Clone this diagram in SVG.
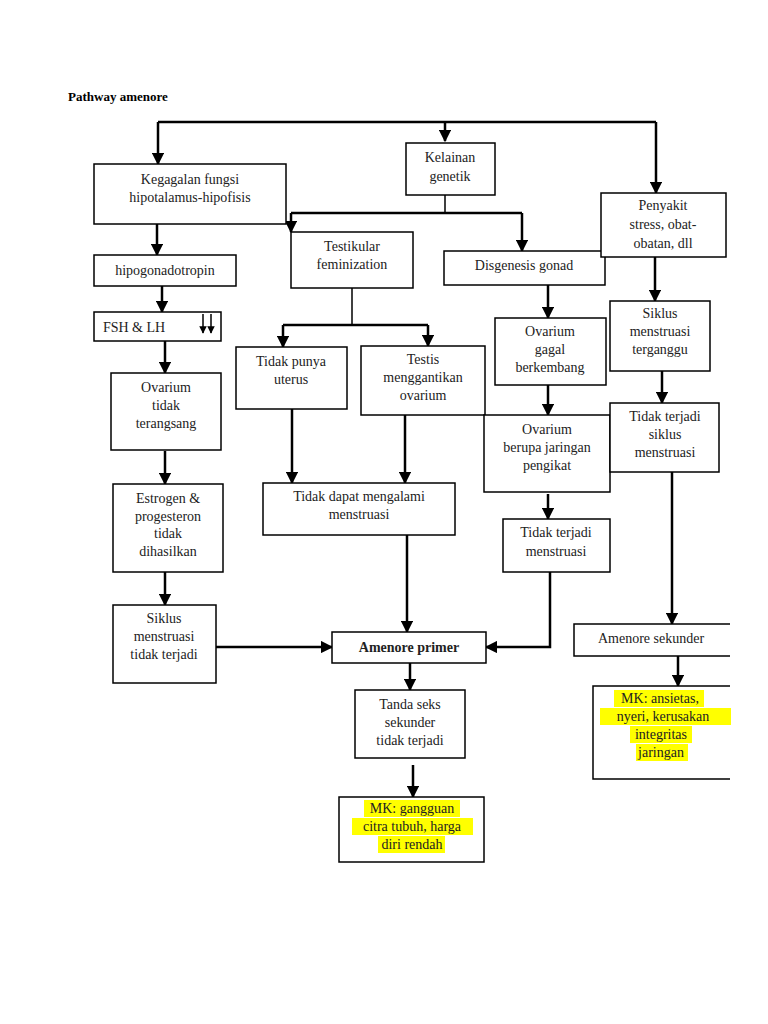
<svg xmlns="http://www.w3.org/2000/svg" width="768" height="1024" viewBox="0 0 768 1024">
<defs>
<marker id="ah" viewBox="0 0 10 10" refX="9" refY="5" markerWidth="5" markerHeight="5" orient="auto"><path d="M0,0 L10,5 L0,10 z" fill="#000"/></marker>
<style>
.b{fill:#fff;stroke:#000;stroke-width:1.5}
.t{font-family:"Liberation Serif",serif;font-size:14px;fill:#222;text-anchor:middle}
.c{fill:none;stroke:#000;stroke-width:2.5}
.a{marker-end:url(#ah)}
.thin{fill:none;stroke:#000;stroke-width:1.5}
.hl{fill:#ffff00}
</style>
</defs>
<rect width="768" height="1024" fill="#fff"/>
<text x="68" y="101" style="font-family:'Liberation Serif',serif;font-size:13px;font-weight:bold">Pathway amenore</text>
<g id="connectors">
<path class="c" d="M158,122 H656"/>
<path class="c a" d="M158,122 V164"/>
<path class="c a" d="M445,122 V141"/>
<path class="c a" d="M656,122 V193"/>
<path class="thin" d="M445,195 V213"/>
<path class="c" d="M291,213 H522"/>
<path class="c a" d="M291,213 V232"/>
<path class="c a" d="M522,213 V251"/>
<path class="thin" d="M352,288 V325"/>
<path class="c" d="M283,325 H428"/>
<path class="c a" d="M283,325 V347"/>
<path class="c a" d="M428,325 V346"/>
<path class="c a" d="M548,285 V318"/>
<path class="c a" d="M548,385 V415"/>
<path class="c a" d="M548,494 V519"/>
<path class="c a" d="M655,257 V301"/>
<path class="c a" d="M662,371 V403"/>
<path class="c a" d="M672,472 V624"/>
<path class="c a" d="M678,656 V686"/>
<path class="c a" d="M157,224 V255"/>
<path class="c a" d="M162,286 V312"/>
<path class="c a" d="M165,341 V373"/>
<path class="c a" d="M165,451 V484"/>
<path class="c a" d="M165,572 V605"/>
<path class="c a" d="M216,647 H332"/>
<path class="c a" d="M292,409 V483"/>
<path class="c a" d="M405,415 V483"/>
<path class="c a" d="M407,535 V632"/>
<path class="c a" d="M550,572 V647 H486"/>
<path class="c a" d="M410,663 V690"/>
<path class="c a" d="M413,765 V797"/>
</g>
<g id="n1"><rect class="b" x="94" y="164" width="192" height="60"/><text class="t" x="190" y="184">Kegagalan fungsi</text><text class="t" x="190" y="202">hipotalamus-hipofisis</text></g>
<g id="n2"><rect class="b" x="94" y="255" width="142" height="31"/><text class="t" x="165" y="275">hipogonadotropin</text></g>
<g id="n3"><rect class="b" x="94" y="312" width="127" height="29"/><text class="t" x="134" y="332">FSH &amp; LH</text><path class="thin a" d="M203,314 V333"/><path class="thin a" d="M211,314 V333"/></g>
<g id="n4"><rect class="b" x="111" y="373" width="110" height="77"/><text class="t" x="166" y="392">Ovarium</text><text class="t" x="166" y="410">tidak</text><text class="t" x="166" y="428">terangsang</text></g>
<g id="n5"><rect class="b" x="113" y="484" width="110" height="88"/><text class="t" x="168" y="503">Estrogen &amp;</text><text class="t" x="168" y="521">progesteron</text><text class="t" x="168" y="538">tidak</text><text class="t" x="168" y="556">dihasilkan</text></g>
<g id="n6"><rect class="b" x="113" y="605" width="103" height="78"/><text class="t" x="164" y="623">Siklus</text><text class="t" x="164" y="641">menstruasi</text><text class="t" x="164" y="659">tidak terjadi</text></g>
<g id="n7"><rect class="b" x="406" y="143" width="89" height="52"/><text class="t" x="450" y="162">Kelainan</text><text class="t" x="450" y="181">genetik</text></g>
<g id="n8"><rect class="b" x="291" y="232" width="122" height="56"/><text class="t" x="352" y="251">Testikular</text><text class="t" x="352" y="269">feminization</text></g>
<g id="n9"><rect class="b" x="444" y="251" width="161" height="34"/><text class="t" x="524" y="270">Disgenesis gonad</text></g>
<g id="n10"><rect class="b" x="601" y="193" width="125" height="64"/><text class="t" x="663" y="210">Penyakit</text><text class="t" x="663" y="229">stress, obat-</text><text class="t" x="663" y="248">obatan, dll</text></g>
<g id="n11"><rect class="b" x="236" y="347" width="111" height="62"/><text class="t" x="291" y="366">Tidak punya</text><text class="t" x="291" y="384">uterus</text></g>
<g id="n12"><rect class="b" x="361" y="346" width="124" height="69"/><text class="t" x="423" y="364">Testis</text><text class="t" x="423" y="382">menggantikan</text><text class="t" x="423" y="400">ovarium</text></g>
<g id="n13"><rect class="b" x="495" y="318" width="111" height="67"/><text class="t" x="550" y="336">Ovarium</text><text class="t" x="550" y="354">gagal</text><text class="t" x="550" y="372">berkembang</text></g>
<g id="n14"><rect class="b" x="484" y="415" width="126" height="77"/><text class="t" x="547" y="434">Ovarium</text><text class="t" x="547" y="452">berupa jaringan</text><text class="t" x="547" y="470">pengikat</text></g>
<g id="n15"><rect class="b" x="610" y="301" width="100" height="70"/><text class="t" x="660" y="318">Siklus</text><text class="t" x="660" y="336">menstruasi</text><text class="t" x="660" y="354">terganggu</text></g>
<g id="n16"><rect class="b" x="610" y="403" width="109" height="69"/><text class="t" x="665" y="421">Tidak terjadi</text><text class="t" x="665" y="439">siklus</text><text class="t" x="665" y="457">menstruasi</text></g>
<g id="n17"><rect class="b" x="263" y="483" width="192" height="52"/><text class="t" x="359" y="501">Tidak dapat mengalami</text><text class="t" x="359" y="519">menstruasi</text></g>
<g id="n18"><rect class="b" x="503" y="519" width="107" height="53"/><text class="t" x="556" y="537">Tidak terjadi</text><text class="t" x="556" y="556">menstruasi</text></g>
<g id="n19"><rect class="b" x="332" y="632" width="154" height="31"/><text class="t" x="409" y="652" font-weight="bold">Amenore primer</text></g>
<g id="n20"><path class="b" d="M730,624 H574 V656 H730"/><text class="t" x="651" y="643">Amenore sekunder</text></g>
<g id="n21"><rect class="b" x="355" y="690" width="110" height="68"/><text class="t" x="410" y="709">Tanda seks</text><text class="t" x="410" y="727">sekunder</text><text class="t" x="410" y="745">tidak terjadi</text></g>
<g id="n22"><path class="b" d="M730,686 H593 V779 H730"/>
<rect class="hl" x="614" y="690" width="90" height="17"/><rect class="hl" x="600" y="708" width="131" height="17"/><rect class="hl" x="630" y="726" width="62" height="17"/><rect class="hl" x="636" y="744" width="52" height="17"/>
<text class="t" x="660" y="703">MK: ansietas,</text><text class="t" x="663" y="721">nyeri, kerusakan</text><text class="t" x="661" y="739">integritas</text><text class="t" x="661" y="757">jaringan</text></g>
<g id="n23"><rect class="b" x="339" y="797" width="145" height="65"/>
<rect class="hl" x="364" y="800" width="96" height="17"/><rect class="hl" x="352" y="818" width="121" height="17"/><rect class="hl" x="378" y="836" width="67" height="17"/>
<text class="t" x="412" y="813">MK: gangguan</text><text class="t" x="412" y="831">citra tubuh, harga</text><text class="t" x="412" y="849">diri rendah</text></g>
</svg>
